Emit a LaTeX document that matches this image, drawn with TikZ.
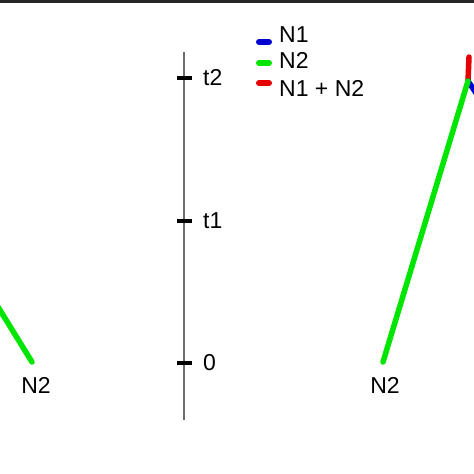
\documentclass[tikz,border=0pt]{standalone}
\usepackage{fontspec}
\setmainfont{Liberation Sans}
\definecolor{cgreen}{RGB}{0,230,0}
\definecolor{cblue}{RGB}{0,0,210}
\definecolor{cred}{RGB}{230,0,0}
\definecolor{caxis}{RGB}{110,110,110}
\begin{document}
\begin{tikzpicture}[x=1pt,y=-1pt,
  lbl/.style={font=\fontsize{23}{27}\selectfont, inner sep=0pt},
  branch/.style={line width=5.5pt, line cap=round},
  legbar/.style={line width=6pt, line cap=round},
  tick/.style={line width=4pt, black}]
\useasboundingbox (0,0) rectangle (474,474);
\begin{scope}
\clip (0,0) rectangle (474,474);
\fill[white] (0,0) rectangle (474,474);
\fill[black!85] (0,0) rectangle (474,3);
% axis
\coordinate (atop) at (184,52);
\coordinate (abot) at (184,420);
\draw[caxis, line width=1.6pt] (atop) -- (abot);
\foreach \y/\t/\n in {78/t2/ta, 221/t1/tb, 363/0/tc}{
  \coordinate (\n l) at (177,\y);
  \coordinate (\n r) at (192,\y);
  \draw[tick] (\n l) -- (\n r);
  \node[lbl, anchor=west] (\n lab) at (203,\y) {\t};
}
% left branch
\coordinate (lA) at (-5,302);
\coordinate (lB) at (32,362);
\draw[branch, cgreen] (lA) -- (lB);
\node[lbl] (lN2) at (36,385) {N2};
% right branch
\coordinate (rA) at (383,362);
\coordinate (rB) at (468,81);
\coordinate (rR) at (469,57);
\coordinate (rC) at (478,96);
\draw[branch, cred] (rB) -- (rR);
\draw[branch, cblue] (rB) -- (rC);
\draw[branch, cgreen] (rA) -- (rB);
\node[lbl] (rN2) at (385,385) {N2};
% legend
\coordinate (b1a) at (259,42); \coordinate (b1b) at (269,42);
\coordinate (b2a) at (259,63); \coordinate (b2b) at (269,63);
\coordinate (b3a) at (259,83); \coordinate (b3b) at (269,83);
\draw[legbar, cblue] (b1a) -- (b1b);
\draw[legbar, cgreen] (b2a) -- (b2b);
\draw[legbar, cred] (b3a) -- (b3b);
\node[lbl, anchor=west] (l1) at (279,35) {N1};
\node[lbl, anchor=west] (l2) at (279,60) {N2};
\node[lbl, anchor=west] (l3) at (279,88) {N1 + N2};
\end{scope}
\end{tikzpicture}
\end{document}
